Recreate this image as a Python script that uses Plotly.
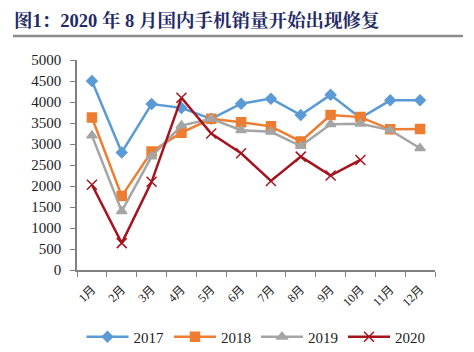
import plotly.graph_objects as go

months = ["1月", "2月", "3月", "4月", "5月", "6月", "7月", "8月", "9月", "10月", "11月", "12月"]
y2017 = [4500, 2800, 3950, 3860, 3600, 3960, 4080, 3690, 4170, 3620, 4040, 4040]
y2018 = [3630, 1760, 2820, 3270, 3600, 3520, 3420, 3060, 3690, 3640, 3350, 3360]
y2019 = [3200, 1400, 2700, 3440, 3600, 3330, 3290, 2950, 3470, 3480, 3330, 2900]
y2020 = [2030, 640, 2100, 4100, 3250, 2780, 2120, 2700, 2250, 2620]
y_ticks = [0, 500, 1000, 1500, 2000, 2500, 3000, 3500, 4000, 4500, 5000]
title_text = "图1：2020 年 8 月国内手机销量开始出现修复"

W, H = 474, 352
L, R, T, B = 77, 435, 60, 270

fig = go.Figure()
series = [
    ("2017", y2017, "#5B9BD5", "diamond", 8),
    ("2018", y2018, "#ED7D31", "square", 9),
    ("2019", y2019, "#A5A5A5", "triangle-up", 9),
    ("2020", y2020, "#A5141E", "x-thin-open", 10),
]
for name, ys, col, sym, sz in series:
    fig.add_trace(go.Scatter(
        x=months[:len(ys)], y=ys, name=name, mode="lines+markers",
        line=dict(color=col, width=2.5),
        marker=dict(symbol=sym, size=sz, color=col, line=dict(color=col, width=1.5)),
    ))

fig.update_layout(
    width=W, height=H,
    margin=dict(l=L, r=W - R, t=T, b=H - B, pad=0, autoexpand=False),
    paper_bgcolor="white", plot_bgcolor="white",
    font=dict(family="Liberation Serif, Noto Sans CJK SC", color="#222222", size=14),
    title=dict(
        text="<b>" + title_text + "</b>",
        x=14 / W, xanchor="left", xref="container",
        y=1 - 21 / H, yanchor="middle", yref="container",
        font=dict(family="Liberation Serif, Noto Serif CJK SC, Noto Sans CJK SC", size=18.5, color="#1F2A66"),
    ),
    xaxis=dict(
        type="category", categoryorder="array", categoryarray=months,
        range=[-0.5, 11.5], showgrid=False, showline=True, linecolor="#808080", linewidth=1.5,
        ticks="outside", tickson="boundaries", ticklen=5, tickcolor="#808080",
        tickangle=-45, tickfont=dict(size=12, family="Liberation Serif, Noto Sans CJK SC"),
        zeroline=False, automargin=False, ticklabelstandoff=6,
    ),
    yaxis=dict(
        range=[0, 5000], tickvals=y_ticks, showgrid=False, showline=True,
        linecolor="#808080", linewidth=1.5, ticks="outside", ticklen=5, tickcolor="#808080",
        tickfont=dict(size=15), zeroline=False, ticklabelstandoff=6, automargin=False,
    ),
    legend=dict(
        orientation="h", x=0.5, xanchor="center", y=(B - 337) / (B - T), yanchor="middle",
        font=dict(size=15), itemwidth=42, tracegroupgap=0,
    ),
    showlegend=True,
)

fig.add_shape(
    type="line", xref="paper", yref="paper",
    x0=(13 - L) / (R - L), x1=(463 - L) / (R - L),
    y0=(B - 36) / (B - T), y1=(B - 36) / (B - T),
    line=dict(color="#8C8C8C", width=2.5),
)

fig.write_html("out.html")
